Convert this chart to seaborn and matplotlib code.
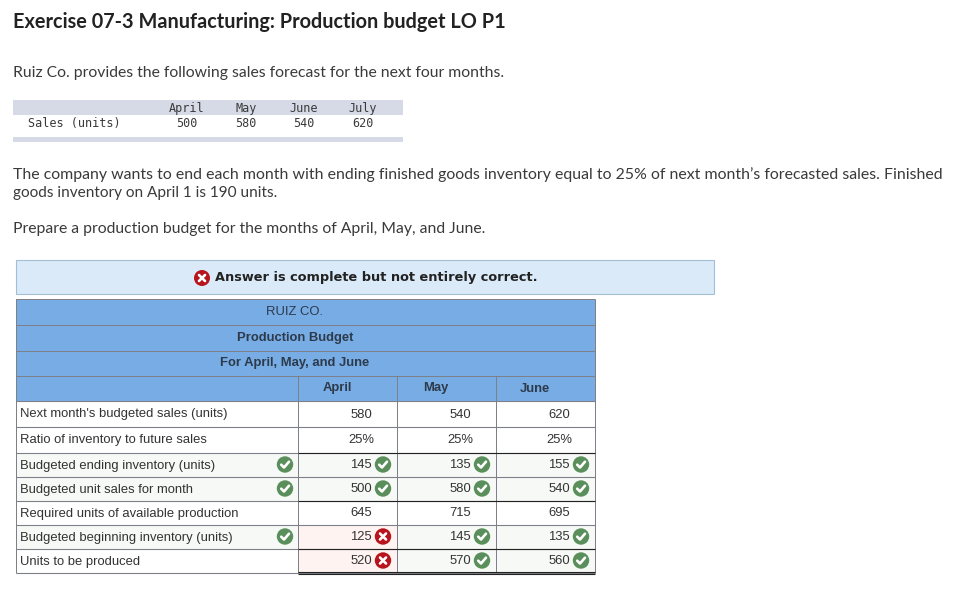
import matplotlib
matplotlib.use("Agg")
import matplotlib.pyplot as plt
from matplotlib.patches import Circle, Rectangle
import numpy as np
import seaborn as sns

# ---- data ----
forecast_months = ["April", "May", "June", "July"]
forecast_sales = [500, 580, 540, 620]

budget_months = ["April", "May", "June"]
row_labels = [
    "Next month's budgeted sales (units)",
    "Ratio of inventory to future sales",
    "Budgeted ending inventory (units)",
    "Budgeted unit sales for month",
    "Required units of available production",
    "Budgeted beginning inventory (units)",
    "Units to be produced",
]
april_values = ["580", "25%", "145", "500", "645", "125", "520"]
may_values = ["540", "25%", "135", "580", "715", "145", "570"]
june_values = ["620", "25%", "155", "540", "695", "135", "560"]

# 0 = no mark, 1 = correct, 2 = wrong
label_status = [0, 0, 1, 1, 0, 1, 0]
april_status = [0, 0, 1, 1, 0, 2, 2]
may_status = [0, 0, 1, 1, 0, 1, 1]
june_status = [0, 0, 1, 1, 0, 1, 1]

sns.set_theme(style="white")
plt.rcParams["font.family"] = ["Liberation Sans", "DejaVu Sans"]

W, H = 970, 612
PX = 0.72  # px -> pt at dpi 100
BLUE = "#78ACE5"
GRID = "#7D8088"
GREEN = "#5A8F5C"
RED = "#B7141E"
INK = "#3A3A3A"

fig = plt.figure(figsize=(W / 100, H / 100), dpi=100, facecolor="white")
ax = fig.add_axes([0, 0, 1, 1])
ax.set_xlim(0, W)
ax.set_ylim(H, 0)
ax.axis("off")
ax.set_zorder(1)
ax.patch.set_alpha(0)


def put(x, y, s, size, ha="left", color=INK, weight="normal", family=None):
    ax.text(x, y, s, fontsize=size * PX, ha=ha, va="center", color=color,
            fontweight=weight, family=family or plt.rcParams["font.family"], zorder=5)


def box(x0, y0, x1, y1, face, edge="none", lw=0, z=1):
    ax.add_patch(Rectangle((x0, y0), x1 - x0, y1 - y0, facecolor=face, edgecolor=edge, linewidth=lw, zorder=z))


def line(x0, y0, x1, y1, color=GRID, lw=1.0, z=3):
    ax.plot([x0, x1], [y0, y1], color=color, lw=lw * PX, zorder=z, solid_capstyle="butt")


def mark(cx, cy, status, r=8.2):
    if status == 1:
        ax.add_patch(Circle((cx, cy), r, facecolor=GREEN, edgecolor="none", zorder=6))
        ax.plot([cx - 3.8, cx - 1.0, cx + 4.0], [cy + 0.2, cy + 3.0, cy - 2.8], color="white",
                lw=1.9, zorder=7, solid_capstyle="round", solid_joinstyle="round")
    elif status == 2:
        ax.add_patch(Circle((cx, cy), r, facecolor=RED, edgecolor="none", zorder=6))
        ax.plot([cx - 3, cx + 3], [cy - 3, cy + 3], color="white", lw=1.9, zorder=7)
        ax.plot([cx - 3, cx + 3], [cy + 3, cy - 3], color="white", lw=1.9, zorder=7)


# ---- intro text ----
put(13, 22, "Exercise 07-3 Manufacturing: Production budget LO P1", 19.9, color="#222222",
    weight="bold", family="Lato")
put(13, 72.5, "Ruiz Co. provides the following sales forecast for the next four months.", 15.75, family="Lato")
put(13, 174.5, "The company wants to end each month with ending finished goods inventory equal to 25% of next month\u2019s forecasted sales. Finished",
    15.85, family="Lato")
put(13, 192.5, "goods inventory on April 1 is 190 units.", 15.4, family="Lato")
put(13, 228.5, "Prepare a production budget for the months of April, May, and June.", 15.75, family="Lato")

# ---- forecast table ----
box(13, 100, 403, 115, "#D5DAE6")
box(13, 137, 403, 142, "#D5DAE6")
put(28, 123.5, "Sales (units)", 11.7, family="DejaVu Sans Mono")
for cx, month, sales in zip([187, 246, 304, 363], forecast_months, forecast_sales):
    put(cx, 108.5, month, 11.7, ha="center", family="DejaVu Sans Mono")
    put(cx, 123.5, str(sales), 11.7, ha="center", family="DejaVu Sans Mono")

# ---- answer banner ----
box(16, 260, 714, 294, "#DAEAF8", edge="#A3BFD6", lw=0.8)
mark(202, 278, 2, r=8)
put(215, 278, "Answer is complete but not entirely correct.", 12.85, color="#222222", weight="bold",
    family="DejaVu Sans")

# ---- budget table header ----
box(16, 299, 595, 401, BLUE)
put(295, 312, "RUIZ CO.", 13, ha="center", color="#2D3A4A")
put(295, 338, "Production Budget", 13, ha="center", color="#2D3A4A", weight="bold")
put(295, 363, "For April, May, and June", 13, ha="center", color="#2D3A4A", weight="bold")
for y in [299, 325, 350.5, 375.5]:
    line(16, y, 595, y)
col_edges = [298, 397, 496, 595]
for cx, month in zip([337, 436, 535], budget_months):
    put(cx, 388.5, month, 13, ha="center", color="#2D3A4A", weight="bold")

# ---- tinted cells of the marked rows, through seaborn heatmaps ----
tint = sns.color_palette(["#FFFFFF", "#F6F9F5", "#FFF3F1"])
status = np.array([april_status, may_status, june_status]).T[2:]
hm_ax = fig.add_axes([298 / W, 1 - 573 / H, 297 / W, 120 / H], zorder=0)
sns.heatmap(status, ax=hm_ax, cmap=tint, vmin=0, vmax=2, cbar=False, xticklabels=False, yticklabels=False)
hm_ax.axis("off")
label_ax = fig.add_axes([16 / W, 1 - 573 / H, 282 / W, 120 / H], zorder=0)
sns.heatmap(np.array(label_status[2:]).reshape(-1, 1), ax=label_ax, cmap=tint, vmin=0, vmax=2, cbar=False,
            xticklabels=False, yticklabels=False)
label_ax.axis("off")

# ---- budget table body ----
row_edges = [401, 427, 452.5, 477, 501, 525, 549, 573]
row_mids = [414.5, 440, 465.5, 489.5, 513.5, 537.5, 561.5]
for y in row_edges:
    line(16, y, 595, y, lw=1.1)
for y in (452.5, 501, 549):
    line(298, y, 595, y, color="#222222", lw=1.1, z=4)
line(298, 571.5, 595, 571.5, color="#222222", lw=1.1, z=4)
line(298, 574, 595, 574, color="#222222", lw=1.1, z=4)
line(16, 299, 16, 573)
line(298, 375.5, 298, 573)
line(397, 375.5, 397, 573)
line(496, 375.5, 496, 573)
line(595, 299, 595, 573)

for i, (label, y) in enumerate(zip(row_labels, row_mids)):
    put(20, y, label, 13, color="#333333")
    mark(285, y - 1, label_status[i])

for vals, stats, x0 in zip([april_values, may_values, june_values],
                           [april_status, may_status, june_status], col_edges[:-1]):
    for val, st, y in zip(vals, stats, row_mids):
        put(x0 + 63, y, val, 13, ha="center", color="#333333")
        mark(x0 + 85, y - 1, st)

fig.savefig("out.png", dpi=100, facecolor="white")
